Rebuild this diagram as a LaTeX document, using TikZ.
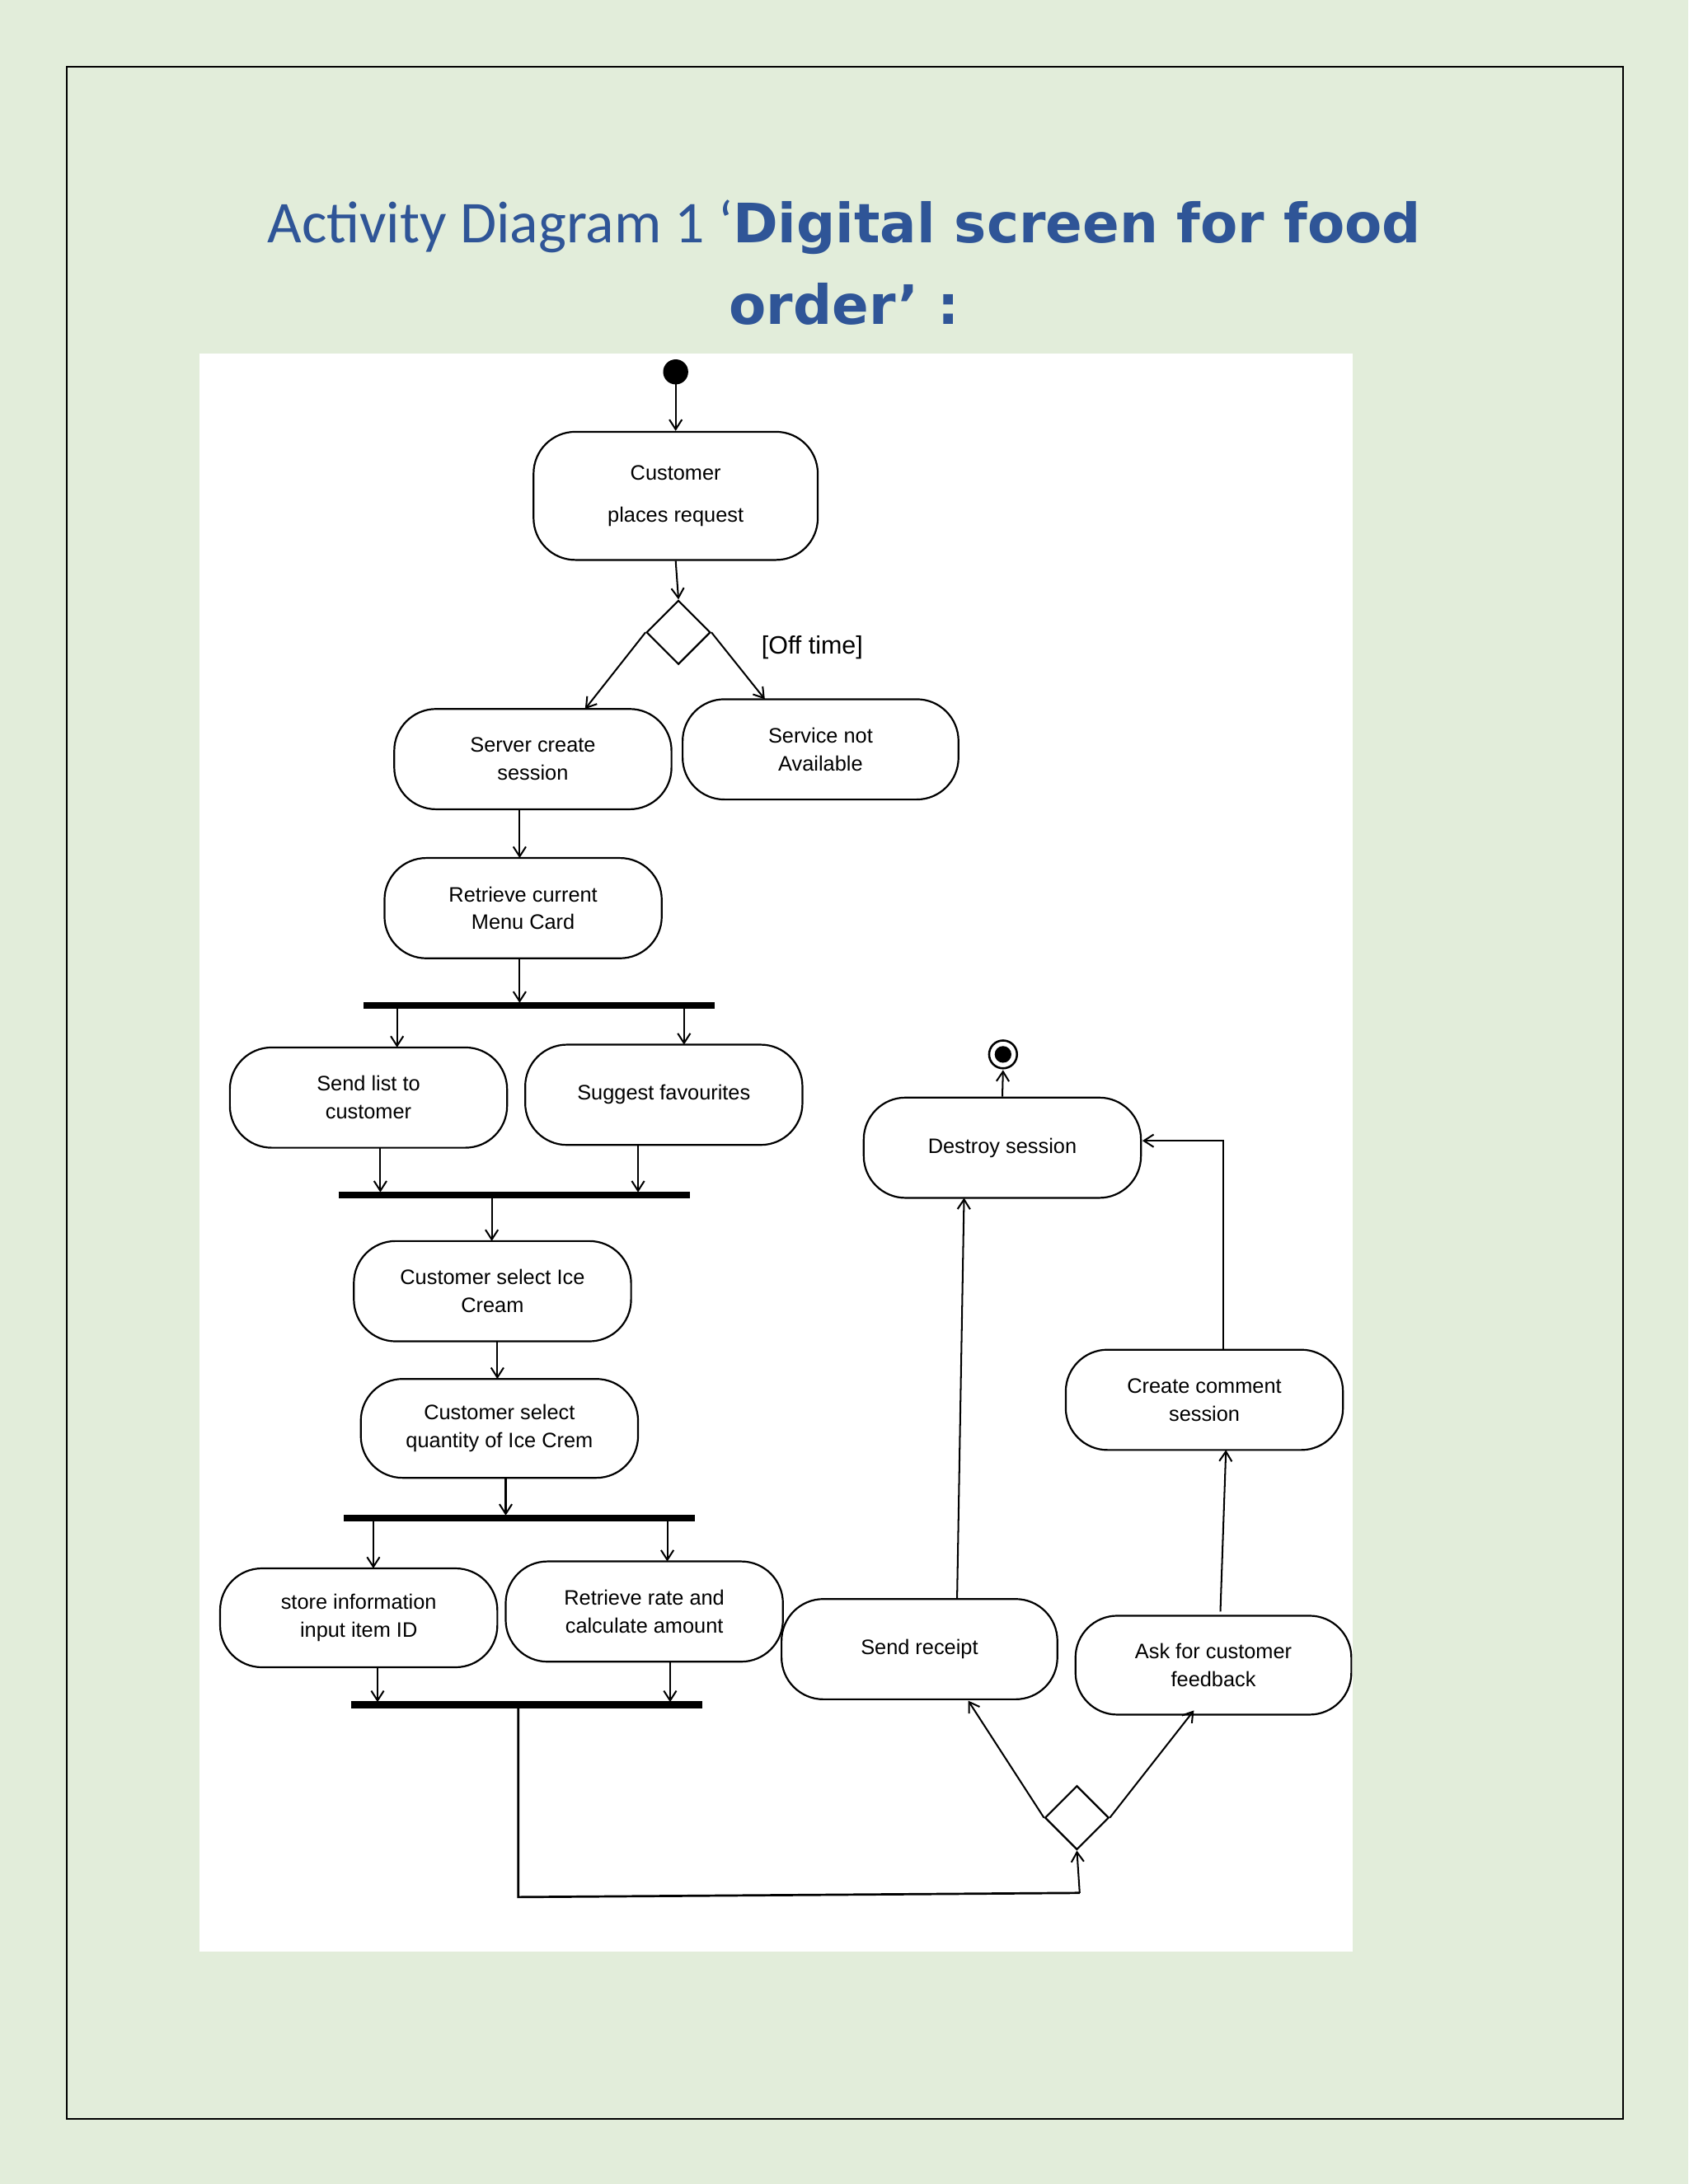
\documentclass[tikz,border=0pt]{standalone}
\usepackage{fontspec}
\setmainfont{Liberation Sans}
\newfontfamily\titlefont{Carlito}
\newfontfamily\titlebold{DejaVu Sans}
\usetikzlibrary{arrows.meta,shapes.geometric}
\definecolor{bg}{HTML}{E2EDDA}
\definecolor{tblue}{HTML}{2F5597}
\tikzset{
 act/.style={draw,rounded corners=30pt,line width=1.3pt,align=center,font=\fontsize{15}{20}\selectfont,inner sep=0pt},
 bar/.style={line width=5pt},
 arr/.style={line width=1.2pt,-{Straight Barb[length=7pt,width=9pt]}},
 ln/.style={line width=1.6pt}
}
\newcommand{\act}[6]{\node[act,minimum width=#4-#2,minimum height=#5-#3] (#1) at ({(#2+#4)/2},{(#3+#5)/2}) {#6};}
\begin{document}
\begin{tikzpicture}[x=1pt,y=-1pt]
\useasboundingbox (0,0) rectangle (1212,1568);
\fill[bg] (0,0) rectangle (1212,1568);
\draw[line width=1.3pt] (48,48) rectangle (1165,1521);
\node[tblue,font=\fontsize{42.5}{50}\selectfont] (t1) at (606,163) {{\titlefont Activity Diagram 1 ‘}{\titlebold\bfseries\fontsize{39}{46}\selectfont Digital screen for food}};
\node[tblue,font=\fontsize{39}{46}\selectfont\titlebold\bfseries] (t2) at (606,218) {order’ :};
\fill[white] (143,254) rectangle (971,1401);
\fill (485,267) circle (9);
\node (initn) at (485,267) {};
\act{c1}{383}{310}{587}{402}{Customer\\[10pt]places request}
\node[draw,diamond,aspect=1,line width=1.3pt,minimum size=46pt,inner sep=0pt,fill=white] (d1) at (487,454) {};
\act{srv}{283}{509}{482}{581}{Server create\\session}
\act{sna}{490}{502}{688}{574}{Service not\\Available}
\node[font=\fontsize{18}{22}\selectfont] (off) at (583,465) {[Off time]};
\act{menu}{276}{616}{475}{688}{Retrieve current\\Menu Card}
\draw[bar] (261,722) -- (513,722);
\act{send}{165}{752}{364}{824}{Send list to\\customer}
\act{sug}{377}{750}{576}{822}{Suggest favourites}
\draw[bar] (243,858) -- (495,858);
\act{ice}{254}{891}{453}{963}{Customer select Ice\\Cream}
\act{qty}{259}{990}{458}{1061}{Customer select\\quantity of Ice Crem}
\draw[bar] (247,1090) -- (499,1090);
\act{store}{158}{1126}{357}{1197}{store information\\input item ID}
\act{rate}{363}{1121}{562}{1193}{Retrieve rate and\\calculate amount}
\draw[bar] (252,1224) -- (504,1224);
\node[draw,diamond,aspect=1,line width=1.3pt,minimum size=46pt,inner sep=0pt,fill=white] (d2) at (773,1305) {};
\act{rec}{561}{1148}{759}{1220}{Send receipt}
\act{ask}{772}{1160}{970}{1231}{Ask for customer\\feedback}
\act{cc}{765}{969}{964}{1041}{Create comment\\session}
\act{des}{620}{788}{819}{860}{Destroy session}
\draw[line width=1.5pt] (720,757) circle (10);
\fill (720,757) circle (6);
\node[inner sep=0pt,minimum size=22pt,circle] (fin) at (720,757) {};
\coordinate (desr) at (820,819);
\draw[arr] (485,276) -- (c1.north);
\draw[arr] (c1.south) -- (d1.north);
\draw[arr] (d1.west) -- (420,509);
\draw[arr] (d1.east) -- (549,502);
\draw[arr] (373,581) -- (373,616);
\draw[arr] (373,688) -- (373,720);
\draw[arr] (285,724) -- (285,752);
\draw[arr] (491,724) -- (491,750);
\draw[arr] (273,824) -- (273,856);
\draw[arr] (458,822) -- (458,856);
\draw[arr] (353,860) -- (353,891);
\draw[arr] (357,963) -- (357,990);
\draw[arr] (363,1061) -- (363,1088);
\draw[arr] (268,1092) -- (268,1126);
\draw[arr] (479,1092) -- (479,1121);
\draw[arr] (271,1197) -- (271,1222);
\draw[arr] (481,1193) -- (481,1222);
\draw[ln] (372,1226) -- (372,1362) -- (775,1359);
\draw[arr] (775,1359) -- (d2.south);
\draw[arr] (d2.west) -- (695,1221);
\draw[arr] (d2.east) -- (857,1228);
\draw[arr] (687,1148) -- (692,860);
\draw[arr] (876,1157) -- (880,1041);
\draw[arr] (878,969) -- (878,819) -- (desr);
\draw[arr] (des.north) -- (fin.south);
\end{tikzpicture}
\end{document}
